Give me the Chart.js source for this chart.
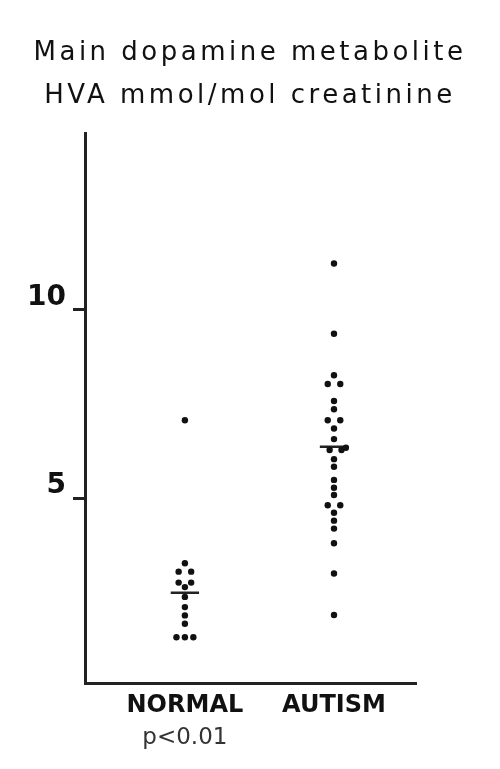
<!DOCTYPE html>
<html>
<head>
<meta charset="utf-8">
<script src="https://cdn.jsdelivr.net/npm/chart.js@4.4.0/dist/chart.umd.min.js"></script>
<style>
  html, body { margin: 0; padding: 0; background: #fff; }
  #wrap { width: 500px; height: 769px; }
</style>
</head>
<body>
<div id="wrap"><canvas id="hvaChart"></canvas></div>
<script>
const groups = ['NORMAL', 'AUTISM'];
const titleLines = ['Main dopamine metabolite', 'HVA mmol/mol creatinine'];
const pValueText = 'p<0.01';

// HVA values, with the side lane each dot sits in
const normalValues = [7.06, 3.27, 3.05, 3.05, 2.76, 2.76, 2.64, 2.38, 2.11, 1.89, 1.67, 1.31, 1.31, 1.31];
const normalLanes = [0, 0, -1, 1, -1, 1, 0, 0, 0, 0, 0, -1.35, 0, 1.35];
const autismValues = [11.21, 9.35, 8.25, 8.02, 8.02, 7.57, 7.35, 7.06, 7.06, 6.84, 6.56, 6.27, 6.27, 6.33,
  6.03, 5.83, 5.48, 5.27, 5.08, 4.81, 4.81, 4.61, 4.40, 4.19, 3.80, 3.00, 1.90];
const autismLanes = [0, 0, 0, -1, 1, 0, 0, -1, 1, 0, 0, -0.7, 1.2, 1.9,
  0, 0, 0, 0, 0, -1, 1, 0, 0, 0, 0, 0, 0];
const groupMeans = [2.49, 6.36];
const yTicks = [5, 10];

const LANE = 0.042;
const MEAN_HALF = 0.095;
const ink = '#111';
const font = 'DejaVu Sans';

function dots(values, lanes, groupIndex) {
  return values.map((v, i) => ({ x: groupIndex + 1 + lanes[i] * LANE, y: v }));
}

function meanLine(groupIndex) {
  const m = groupMeans[groupIndex];
  return [{ x: groupIndex + 1 - MEAN_HALF, y: m }, { x: groupIndex + 1 + MEAN_HALF, y: m }];
}

// the original title is set in a wide face, so space the letters out while the title draws;
// tick labels sit on a higher layer (z: 1) and are drawn after the spacing is reset
const titleSpacing = {
  id: 'titleSpacing',
  beforeDraw(chart) { chart.ctx.letterSpacing = '3.5px'; },
  beforeDatasetsDraw(chart) { chart.ctx.letterSpacing = '0px'; }
};

const pValuePlugin = {
  id: 'pValue',
  afterDraw(chart) {
    const ctx = chart.ctx;
    const xs = chart.scales.x;
    ctx.save();
    ctx.font = `23px "${font}"`;
    ctx.fillStyle = '#333';
    ctx.textAlign = 'center';
    ctx.textBaseline = 'middle';
    ctx.fillText(pValueText, xs.getPixelForValue(1), xs.top + 55);
    ctx.restore();
  }
};

new Chart(document.getElementById('hvaChart'), {
  type: 'scatter',
  data: {
    datasets: [
      { label: 'Normal', data: dots(normalValues, normalLanes, 0), pointRadius: 3.2, backgroundColor: ink, borderWidth: 0 },
      { label: 'Autism', data: dots(autismValues, autismLanes, 1), pointRadius: 3.2, backgroundColor: ink, borderWidth: 0 },
      { type: 'line', label: 'Normal mean', data: meanLine(0), borderColor: '#222', borderWidth: 2.5, pointRadius: 0 },
      { type: 'line', label: 'Autism mean', data: meanLine(1), borderColor: '#222', borderWidth: 2.5, pointRadius: 0 }
    ]
  },
  plugins: [titleSpacing, pValuePlugin],
  options: {
    responsive: true,
    maintainAspectRatio: false,
    animation: false,
    layout: { padding: 0 },
    plugins: {
      legend: { display: false },
      tooltip: { enabled: false },
      title: {
        display: true,
        text: titleLines,
        color: ink,
        font: { family: font, size: 26, weight: 'normal', lineHeight: 1.66 },
        padding: { top: 32, bottom: 15 }
      }
    },
    scales: {
      x: {
        type: 'linear',
        min: 0.33,
        max: 2.55,
        afterBuildTicks(scale) { scale.ticks = groups.map((g, i) => ({ value: i + 1 })); },
        afterFit(scale) { scale.height = 86; },
        grid: { display: false },
        border: { display: true, color: '#222', width: 3 },
        ticks: {
          z: 1,
          color: ink,
          padding: 0,
          font: { family: font, size: 24, weight: 'bold' },
          callback: v => groups[v - 1]
        }
      },
      y: {
        min: 0.1,
        max: 14.66,
        afterBuildTicks(scale) { scale.ticks = yTicks.map(v => ({ value: v })); },
        afterFit(scale) { scale.width = 85; },
        grid: { drawOnChartArea: false, drawTicks: true, tickLength: 12, tickWidth: 3, tickColor: '#222' },
        border: { display: true, color: '#222', width: 3 },
        ticks: {
          z: 1,
          color: ink,
          padding: 7,
          labelOffset: -12,
          font: { family: font, size: 28, weight: 'bold' }
        }
      },
      // empty right-hand margin, so the plot ends short of the edge while the title stays centred on the page
      margin: {
        type: 'linear',
        position: 'right',
        afterFit(scale) { scale.width = 84; },
        grid: { display: false },
        border: { display: false },
        ticks: { display: false }
      }
    }
  }
});
</script>
</body>
</html>
